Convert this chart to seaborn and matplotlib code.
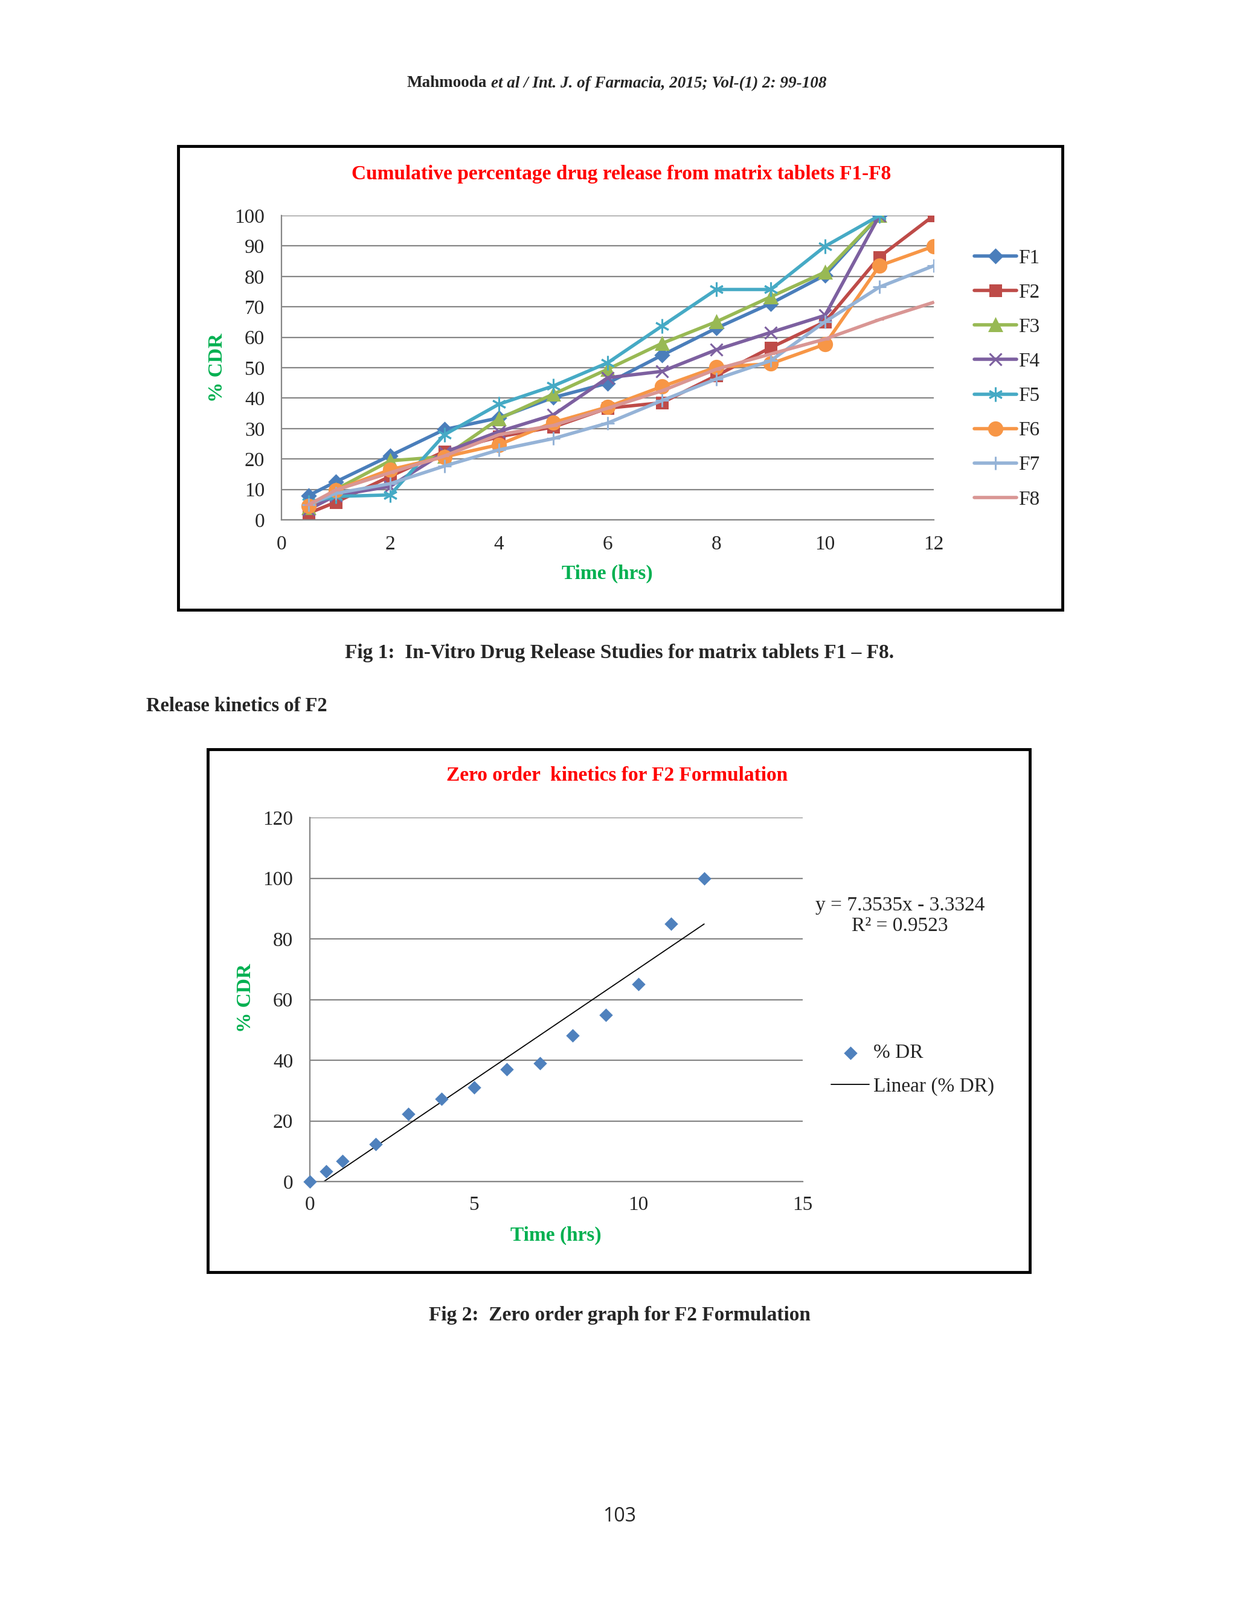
#----------------------------------------
# In-vitro drug release (F1-F8) + zero order plot for F2
#----------------------------------------
import matplotlib
matplotlib.use("Agg")
import matplotlib.pyplot as plt
from matplotlib.patches import Rectangle
import seaborn as sns

#-----------------
# Daten
#-----------------
time_hrs = [0.5, 1, 2, 3, 4, 5, 6, 7, 8, 9, 10, 11, 12]
f1 = [8.0, 12.5, 21.1, 29.7, 33.5, 40.2, 44.9, 54.1, 63.0, 71.1, 80.4, 100]
f2 = [2.2, 5.8, 14.3, 22.5, 27.3, 30.5, 36.7, 38.5, 47.4, 56.6, 65.1, 86.4, 100]
f3 = [4.0, 10.0, 19.4, 20.8, 33.2, 41.3, 49.5, 58.0, 65.1, 73.3, 81.4, 100]
f4 = [3.4, 8.0, 11.0, 22.2, 29.0, 34.5, 46.7, 48.8, 55.9, 61.6, 67.2, 100]
f5 = [5.7, 7.7, 8.2, 28.0, 38.0, 44.0, 51.6, 63.7, 75.7, 75.7, 89.9, 100]
f6 = [4.5, 9.8, 16.5, 20.7, 24.7, 32.0, 37.1, 43.8, 50.2, 51.3, 57.7, 83.5, 89.9]
f7 = [5.0, 8.7, 11.9, 17.7, 23.0, 26.7, 31.8, 39.2, 46.3, 52.3, 65.1, 76.5, 83.5]
f8 = [5.0, 9.8, 15.5, 21.0, 28.0, 31.0, 36.7, 42.4, 49.5, 54.5, 59.4, 65.8, 71.5]
names = ["F1", "F2", "F3", "F4", "F5", "F6", "F7", "F8"]

zo_time = [0, 0.5, 1, 2, 3, 4, 5, 6, 7, 8, 9, 10, 11, 12]
zo_dr = [0, 3.4, 6.7, 12.3, 22.2, 27.3, 31.1, 37.0, 39.0, 48.2, 55.0, 65.0, 85.0, 100]
fit_text = "y = 7.3535x - 3.3324\nR² = 0.9523"

#-------------
# Grundlayout
#-------------
sns.set_style("white")
plt.rcParams["font.family"] = ["Liberation Serif", "DejaVu Serif"]

W, H = 2048, 2650
fig = plt.figure(figsize=(W / 100, H / 100), dpi=100)


def fx(px):
    return px / W


def fy(py):
    return 1 - py / H


grid_col = "#868686"
red = "#FF0000"
green = "#00B050"
fs = 24

# Kopfzeile
fig.text(fx(806), fy(138), "Mahmooda", ha="right", va="center",
         fontsize=19.5, fontweight="bold")
fig.text(fx(813), fy(138), "et al / Int. J. of Farmacia, 2015; Vol-(1) 2: 99-108",
         ha="left", va="center", fontsize=19.5, fontweight="bold", fontstyle="italic")

#----------------------
# 1. Diagramm F1 - F8
#----------------------
fig.add_artist(Rectangle((fx(295), fy(1010)), (1759 - 295) / W, (1010 - 242) / H,
                         transform=fig.transFigure, fill=False, lw=3.5, ec="black"))
fig.text(fx(1029), fy(288), "Cumulative percentage drug release from matrix tablets F1-F8",
         ha="center", va="center", fontsize=24, fontweight="bold", color=red)

ax1 = fig.add_axes([fx(466), fy(861), (1546 - 466) / W, (861 - 357) / H])

series = [f1, f2, f3, f4, f5, f6, f7, f8]
colors = ["#4A7EBB", "#BE4B48", "#98B954", "#7D60A0",
          "#46AAC5", "#F79646", "#95B3D7", "#D99694"]
markers = ["D", "s", "^", "x", (6, 2, 0), "o", "+", "_"]
msizes = [11, 13, 14, 14, 17, 16, 16, 10]

for name, vals, col, mk, ms in zip(names, series, colors, markers, msizes):
    sns.lineplot(x=time_hrs[:len(vals)], y=vals, ax=ax1, color=col, marker=mk,
                 markersize=ms, markeredgecolor=col, markeredgewidth=2.2,
                 linewidth=4, label=name)

ax1.set_xlim(0, 12)
ax1.set_ylim(0, 100)
ax1.set_xticks(range(0, 13, 2))
ax1.set_yticks(range(0, 101, 10))
ax1.grid(True, axis="y", color=grid_col, lw=1.6)
ax1.set_axisbelow(True)
for s in ["top", "right"]:
    ax1.spines[s].set_visible(False)
for s in ["left", "bottom"]:
    ax1.spines[s].set_color(grid_col)
    ax1.spines[s].set_linewidth(1.6)
ax1.tick_params(axis="both", length=0, labelsize=fs)
ax1.tick_params(axis="y", pad=20)
ax1.tick_params(axis="x", pad=18)

ax1.set_xlabel("Time (hrs)", fontsize=fs, fontweight="bold", color=green)
ax1.set_ylabel("% CDR", fontsize=fs, fontweight="bold", color=green)
ax1.xaxis.set_label_coords(0.499, -0.177)
ax1.xaxis.label.set_va("center")
ax1.yaxis.set_label_coords(-0.099, 0.5)
ax1.yaxis.label.set_va("center")

h, l = ax1.get_legend_handles_labels()
ax1.legend(h, l, loc="upper left", bbox_to_anchor=(fx(1613), fy(412)),
           bbox_transform=fig.transFigure, frameon=False, fontsize=fs,
           handlelength=2.1, handletextpad=0.1, labelspacing=0.8,
           borderpad=0, borderaxespad=0)

fig.text(fx(1026), fy(1081), "Fig 1:  In-Vitro Drug Release Studies for matrix tablets F1 \u2013 F8.",
         ha="center", va="center", fontsize=24, fontweight="bold")
fig.text(fx(242), fy(1169), "Release kinetics of F2", ha="left", va="center",
         fontsize=23.5, fontweight="bold")

#------------------------------
# 2. Nullte Ordnung (Kinetik F2)
#------------------------------
fig.add_artist(Rectangle((fx(344), fy(2107)), (1705 - 344) / W, (2107 - 1241) / H,
                         transform=fig.transFigure, fill=False, lw=3.5, ec="black"))
fig.text(fx(1022), fy(1284), "Zero order  kinetics for F2 Formulation",
         ha="center", va="center", fontsize=24, fontweight="bold", color=red)

ax2 = fig.add_axes([fx(513), fy(1957), (1329 - 513) / W, (1957 - 1354) / H])

sns.scatterplot(x=zo_time, y=zo_dr, ax=ax2, marker="D", s=130, color="#4F81BD",
                linewidth=0, clip_on=False, label="% DR", zorder=3)
sns.regplot(x=zo_time, y=zo_dr, ax=ax2, scatter=False, ci=None, truncate=True,
            line_kws=dict(color="black", lw=1.3))
ax2.lines[-1].set_label("Linear (% DR)")

ax2.set_xlim(0, 15)
ax2.set_ylim(0, 120)
ax2.set_xticks(range(0, 16, 5))
ax2.set_yticks(range(0, 121, 20))
ax2.grid(True, axis="y", color=grid_col, lw=1.6)
ax2.set_axisbelow(True)
for s in ["top", "right"]:
    ax2.spines[s].set_visible(False)
for s in ["left", "bottom"]:
    ax2.spines[s].set_color(grid_col)
    ax2.spines[s].set_linewidth(1.6)
ax2.tick_params(axis="both", length=0, labelsize=fs)
ax2.tick_params(axis="y", pad=20)
ax2.tick_params(axis="x", pad=17)

ax2.set_xlabel("Time (hrs)", fontsize=fs, fontweight="bold", color=green)
ax2.set_ylabel("% CDR", fontsize=fs, fontweight="bold", color=green)
ax2.xaxis.set_label_coords(0.499, -0.148)
ax2.xaxis.label.set_va("center")
ax2.yaxis.set_label_coords(-0.130, 0.504)
ax2.yaxis.label.set_va("center")

fig.text(fx(1490), fy(1517), fit_text, ha="center", va="center",
         fontsize=fs, multialignment="center", linespacing=1.15)

h2, l2 = ax2.get_legend_handles_labels()
ax2.legend(h2, l2, loc="upper left", bbox_to_anchor=(fx(1376), fy(1729)),
           bbox_transform=fig.transFigure, frameon=False, fontsize=fs,
           handlelength=1.9, handletextpad=0.2, labelspacing=0.75,
           borderpad=0, borderaxespad=0, scatterpoints=1)

fig.text(fx(1026), fy(2178), "Fig 2:  Zero order graph for F2 Formulation",
         ha="center", va="center", fontsize=24, fontweight="bold")

# Seitenzahl
fig.text(fx(1026), fy(2511), "103", ha="center", va="center",
         fontsize=23, family=["Open Sans", "DejaVu Sans"])

fig.savefig("out.png", dpi=100)
